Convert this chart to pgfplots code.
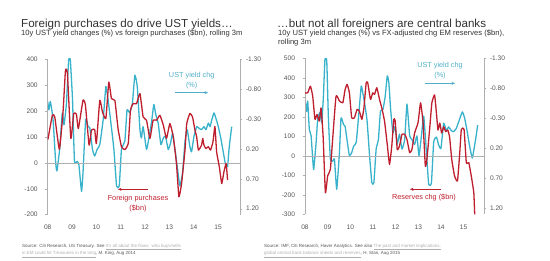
\documentclass[border=0pt]{standalone}
\usepackage{pgfplots}
\pgfplotsset{compat=1.18}
\usepackage{fontspec}
\setmainfont{Liberation Sans}
\usetikzlibrary{arrows.meta}
\definecolor{cred}{RGB}{190,30,45}
\definecolor{cblue}{RGB}{55,178,202}
\definecolor{ctext}{RGB}{80,175,200}
\definecolor{axgray}{RGB}{175,175,175}
\definecolor{lblgray}{RGB}{85,85,85}
\definecolor{ttl}{RGB}{50,50,50}
\definecolor{lnk}{RGB}{175,175,175}
\pgfplotsset{
  common/.style={scale only axis, xmin=2008, xmax=2015.9,
    tick align=outside, major tick length=2.5pt,
    every tick/.style={axgray, thin},
    /pgf/number format/assume math mode=true,
    ticklabel style={font=\fontsize{6.6}{7}\selectfont, color=lblgray},
    axis line style={axgray, thin}},
  bluestyle/.style={color=cblue, line width=1.3pt, line join=round, smooth, tension=0.25, no markers},
  redstyle/.style={color=cred, line width=1.3pt, line join=round, smooth, tension=0.25, no markers},
  yieldaxis/.style={common, axis y line*=right, axis x line=none, y dir=reverse,
    ymin=-1.30, ymax=1.30, ytick={-1.3,-0.8,-0.3,0.2,0.7,1.2},
    yticklabel={\pgfmathprintnumber[fixed,fixed zerofill,precision=2,assume math mode=true]{\tick}}},
  usdaxis/.style={common, axis y line*=left, axis x line*=bottom,
    x axis line style={draw=none}, xtick={2008,...,2015},
    xticklabels={08,09,10,11,12,13,14,15}, major x tick style={draw=none},
    xticklabel style={yshift=-4pt}, yticklabel style={xshift=-4pt}},
}
\tikzset{annarrow/.style={thin, -{Stealth[length=3.5pt,width=3pt]}}}
\begin{document}
\begin{tikzpicture}
\useasboundingbox (0pt,0pt) rectangle (550pt,261pt);
% titles
\node[anchor=base west, inner sep=0, color=ttl, font=\fontsize{11.6}{13}\selectfont] at (21pt,233.7pt) {Foreign purchases do drive UST yields\ldots};
\node[anchor=base west, inner sep=0, color=ttl, font=\fontsize{7.6}{8}\selectfont] at (21pt,225pt) {10y UST yield changes (\%) vs foreign purchases (\$bn), rolling 3m};
\node[anchor=base west, inner sep=0, color=ttl, font=\fontsize{11.6}{13}\selectfont] at (277pt,233.7pt) {\ldots but not all foreigners are central banks};
\node[anchor=base west, inner sep=0, color=ttl, font=\fontsize{7.6}{8}\selectfont] at (278pt,225pt) {10y UST yield changes (\%) vs FX-adjusted chg EM reserves (\$bn),};
\node[anchor=base west, inner sep=0, color=ttl, font=\fontsize{7.6}{8}\selectfont] at (278pt,216pt) {rolling 3m};
% sources
\node[anchor=base west, inner sep=0, color=lblgray, font=\fontsize{4.5}{5}\selectfont] at (22pt,13.7pt) {Source: Citi Research, US Treasury. See \textcolor{lnk}{\underline{It's all about the flows: who buys/sells}}};
\node[anchor=base west, inner sep=0, color=lblgray, font=\fontsize{4.5}{5}\selectfont] at (22pt,6pt) {\textcolor{lnk}{\underline{in EM could hit Treasuries in the long}}, M. King, Aug 2014};
\node[anchor=base west, inner sep=0, color=lblgray, font=\fontsize{4.5}{5}\selectfont] at (264pt,13.7pt) {Source: IMF, Citi Research, Haver Analytics. See also \textcolor{lnk}{\underline{The past and market implications:}}};
\node[anchor=base west, inner sep=0, color=lblgray, font=\fontsize{4.5}{5}\selectfont] at (264pt,6pt) {\textcolor{lnk}{\underline{global central bank balance sheets and reserves}}, H. Stan, Aug 2015};

% ===== LEFT CHART =====
\begin{axis}[yieldaxis, at={(47.7pt,46.3pt)}, anchor=south west, width=192.3pt, height=155.7pt]
\addplot[bluestyle] coordinates {
(2008.00,-0.59)(2008.05,-0.45)(2008.11,-0.59)(2008.22,-0.29)(2008.33,0.44)(2008.38,0.57)(2008.49,0.21)(2008.60,-0.40)(2008.67,-0.20)(2008.77,-0.56)(2008.86,-1.28)(2008.93,-1.28)(2009.02,-0.62)(2009.10,0.41)(2009.21,0.41)(2009.28,0.46)(2009.39,0.91)(2009.45,0.60)(2009.56,-0.29)(2009.66,-0.17)(2009.73,-0.15)(2009.84,0.21)(2009.93,0.32)(2010.03,0.21)(2010.14,0.13)(2010.28,-0.29)(2010.39,-0.84)(2010.48,-0.62)(2010.58,-0.29)(2010.72,0.21)(2010.83,0.82)(2010.94,0.82)(2011.03,0.21)(2011.17,0.07)(2011.26,-0.45)(2011.37,-0.40)(2011.48,-0.56)(2011.58,-1.03)(2011.68,-0.84)(2011.79,-0.12)(2011.85,0.02)(2011.92,-0.17)(2012.06,0.21)(2012.17,-0.01)(2012.27,-0.26)(2012.36,-0.54)(2012.44,-0.37)(2012.54,-0.23)(2012.65,0.13)(2012.75,0.02)(2012.84,-0.01)(2012.95,0.21)(2013.05,0.10)(2013.13,-0.06)(2013.23,0.21)(2013.32,0.49)(2013.43,0.82)(2013.54,0.60)(2013.64,0.08)(2013.73,-0.12)(2013.84,0.16)(2013.91,0.25)(2014.01,-0.01)(2014.12,-0.17)(2014.23,-0.14)(2014.32,-0.12)(2014.42,-0.17)(2014.50,-0.12)(2014.60,-0.23)(2014.67,-0.17)(2014.74,-0.28)(2014.83,-0.40)(2014.91,-0.31)(2015.01,-0.17)(2015.11,0.02)(2015.22,0.27)(2015.31,0.47)(2015.39,0.50)(2015.46,0.16)(2015.56,-0.17)
};
\end{axis}
\begin{axis}[usdaxis, at={(47.7pt,46.3pt)}, anchor=south west, width=192.3pt, height=155.7pt,
  ymin=-200, ymax=400, ytick={-200,-100,...,400}]
\draw[axgray, thin] (axis cs:2008,0) -- (axis cs:2015.9,0);
\addplot[redstyle] coordinates {
(2008.01,90)(2008.19,183)(2008.29,177)(2008.48,52)(2008.63,196)(2008.73,356)(2008.81,344)(2008.95,94)(2009.07,190)(2009.18,187)(2009.26,132)(2009.45,241)(2009.55,222)(2009.70,68)(2009.80,126)(2009.93,128)(2010.00,74)(2010.14,241)(2010.25,196)(2010.39,171)(2010.51,311)(2010.62,247)(2010.76,240)(2010.89,132)(2011.03,62)(2011.17,51)(2011.31,74)(2011.40,203)(2011.51,228)(2011.65,228)(2011.79,267)(2011.92,177)(2012.06,164)(2012.20,94)(2012.33,164)(2012.47,164)(2012.61,183)(2012.75,145)(2012.88,94)(2013.02,151)(2013.16,100)(2013.29,-3)(2013.39,-131)(2013.50,-80)(2013.64,49)(2013.71,150)(2013.84,190)(2013.95,177)(2014.05,126)(2014.12,100)(2014.19,49)(2014.32,68)(2014.37,94)(2014.42,68)(2014.50,55)(2014.60,62)(2014.69,49)(2014.79,81)(2014.87,140)(2014.94,42)(2015.05,-15)(2015.15,-80)(2015.24,-35)(2015.33,-3)(2015.39,-67)
};
\end{axis}
\node[color=ctext, font=\fontsize{7.3}{8}\selectfont] at (191.7pt,185pt) {UST yield chg};
\node[color=ctext, font=\fontsize{7.3}{8}\selectfont] at (191.7pt,175pt) {(\%)};
\draw[ctext, annarrow] (175pt,168.3pt) -- (208pt,168.3pt);
\node[color=cred, font=\fontsize{7.3}{8}\selectfont] at (138pt,62.5pt) {Foreign purchases};
\node[color=cred, font=\fontsize{7.3}{8}\selectfont] at (138pt,52pt) {(\$bn)};
\draw[cred, annarrow] (148pt,71.7pt) -- (118pt,71.7pt);

% ===== RIGHT CHART =====
\begin{axis}[yieldaxis, at={(305pt,46.5pt)}, anchor=south west, width=179pt, height=156pt]
\addplot[bluestyle] coordinates {
(2008.00,-0.62)(2008.07,-0.42)(2008.12,-0.59)(2008.19,-0.12)(2008.27,-0.01)(2008.38,0.55)(2008.49,0.10)(2008.56,-0.29)(2008.66,-0.40)(2008.74,-0.23)(2008.81,-0.65)(2008.88,-1.28)(2008.96,-1.26)(2009.03,-0.34)(2009.12,0.38)(2009.22,0.41)(2009.30,0.38)(2009.40,0.88)(2009.52,0.27)(2009.59,-0.31)(2009.70,-0.20)(2009.77,-0.17)(2009.86,0.07)(2009.96,0.32)(2010.06,0.27)(2010.15,0.16)(2010.26,0.10)(2010.36,-0.31)(2010.48,-0.84)(2010.55,-0.73)(2010.63,-0.56)(2010.74,-0.26)(2010.85,0.32)(2010.95,0.77)(2011.04,0.77)(2011.14,0.21)(2011.24,0.05)(2011.33,-0.42)(2011.44,-0.45)(2011.54,-0.67)(2011.63,-1.01)(2011.70,-0.90)(2011.78,-0.45)(2011.88,-0.06)(2011.98,-0.17)(2012.07,0.13)(2012.17,-0.04)(2012.28,0.21)(2012.40,0.05)(2012.50,-0.54)(2012.62,-0.01)(2012.72,0.05)(2012.84,0.13)(2012.94,-0.01)(2013.03,0.32)(2013.13,0.02)(2013.24,-0.34)(2013.35,0.21)(2013.46,0.80)(2013.58,0.77)(2013.68,0.09)(2013.80,0.01)(2013.90,0.14)(2014.00,0.20)(2014.12,-0.22)(2014.24,-0.10)(2014.34,-0.16)(2014.45,-0.10)(2014.56,-0.08)(2014.67,-0.13)(2014.76,-0.22)(2014.86,-0.33)(2014.95,-0.41)(2015.05,-0.30)(2015.15,-0.10)(2015.27,0.17)(2015.38,0.36)(2015.45,0.23)(2015.57,-0.05)(2015.62,-0.19)
};
\end{axis}
\begin{axis}[usdaxis, at={(305pt,46.5pt)}, anchor=south west, width=179pt, height=156pt,
  ymin=-300, ymax=500, ytick={-300,-200,...,500}]
\draw[axgray, thin] (axis cs:2008,0) -- (axis cs:2015.9,0);
\addplot[redstyle] coordinates {
(2008.00,324)(2008.12,324)(2008.24,358)(2008.34,307)(2008.44,188)(2008.53,213)(2008.63,179)(2008.71,246)(2008.80,100)(2008.90,-188)(2009.00,-102)(2009.12,-68)(2009.22,85)(2009.37,307)(2009.52,282)(2009.67,273)(2009.77,341)(2009.86,367)(2009.96,324)(2010.06,196)(2010.18,196)(2010.30,239)(2010.40,230)(2010.51,188)(2010.60,246)(2010.70,375)(2010.77,375)(2010.89,290)(2010.99,324)(2011.07,316)(2011.17,350)(2011.29,290)(2011.39,246)(2011.51,179)(2011.63,60)(2011.73,-43)(2011.83,51)(2011.92,188)(2011.98,179)(2012.07,34)(2012.17,51)(2012.28,111)(2012.40,111)(2012.50,85)(2012.62,17)(2012.72,34)(2012.84,119)(2012.99,171)(2013.10,273)(2013.21,171)(2013.31,-51)(2013.38,-17)(2013.50,136)(2013.60,273)(2013.72,313)(2013.80,220)(2013.87,133)(2013.95,169)(2014.03,118)(2014.12,150)(2014.21,125)(2014.30,133)(2014.38,99)(2014.48,-20)(2014.60,-102)(2014.73,-128)(2014.83,17)(2014.90,136)(2015.02,136)(2015.12,-34)(2015.23,-34)(2015.35,-111)(2015.45,-188)(2015.49,-299)
};
\end{axis}
\node[color=ctext, font=\fontsize{7.3}{8}\selectfont] at (440pt,195pt) {UST yield chg};
\node[color=ctext, font=\fontsize{7.3}{8}\selectfont] at (440pt,185.5pt) {(\%)};
\draw[ctext, annarrow] (425pt,177.7pt) -- (455pt,177.7pt);
\node[color=cred, font=\fontsize{7.3}{8}\selectfont] at (424pt,63pt) {Reserves chg (\$bn)};
\draw[cred, annarrow] (441pt,71.7pt) -- (410pt,71.7pt);
\end{tikzpicture}
\end{document}
